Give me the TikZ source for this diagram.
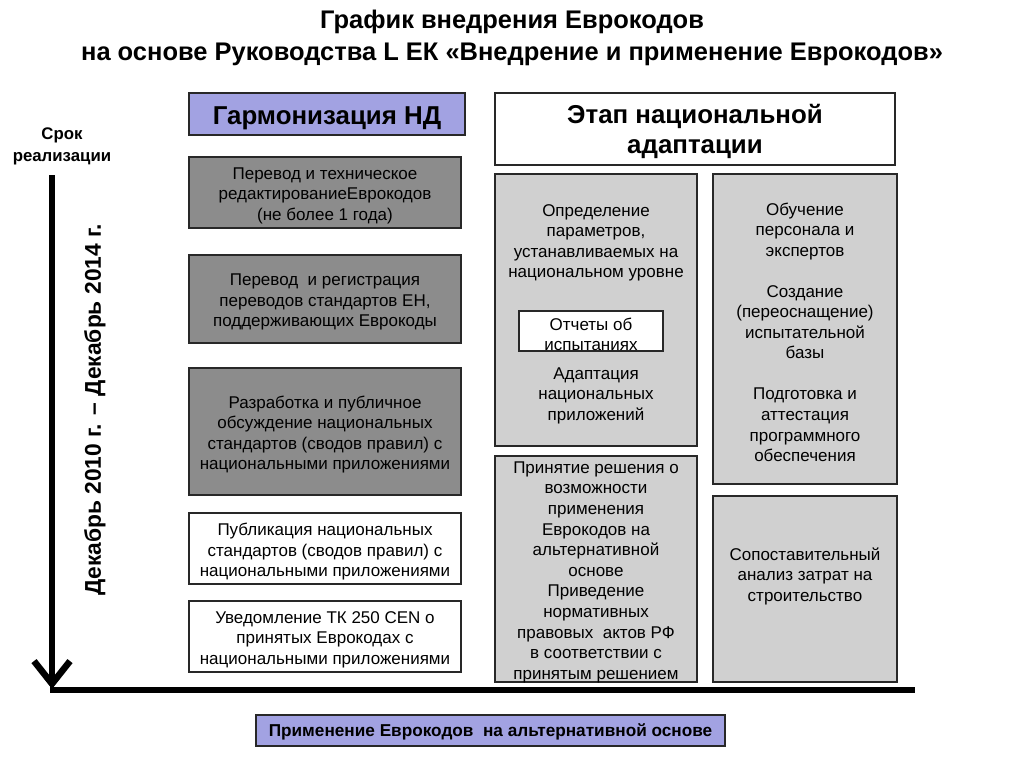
\documentclass[tikz,border=0pt]{standalone}
\usepackage{fontspec}
\setmainfont{Liberation Sans}
\usetikzlibrary{arrows.meta}
\definecolor{dgray}{RGB}{140,140,140}
\definecolor{lgray}{RGB}{208,208,208}
\definecolor{lav}{RGB}{162,162,226}
\definecolor{edge}{RGB}{40,40,40}
\begin{document}
\begin{tikzpicture}[x=0.75pt,y=-0.75pt,
  box/.style={draw=edge,line width=0.9pt,anchor=center,inner sep=0pt},
  body/.style={font=\fontsize{12.75}{15.4}\selectfont,align=center,inner sep=0pt,yshift=-2.4pt},
  darkbox/.style={box,fill=dgray},
  lightbox/.style={box,fill=lgray},
  whitebox/.style={box,fill=white},
  lavbox/.style={box,fill=lav},
  axis/.style={line width=4.9pt}]
\useasboundingbox (0,0) rectangle (1024,768);

% title
\node[align=center,font=\fontsize{19.1}{24}\selectfont\bfseries,yshift=-1.5pt] (title) at (512,36)
  {График внедрения Еврокодов\\на основе Руководства L ЕК «Внедрение и применение Еврокодов»};

% timeline label
\node[align=center,font=\fontsize{12.6}{16.5}\selectfont\bfseries,yshift=-1.5pt] (srok) at (62,144) {Срок\\реализации};
\node[rotate=90,font=\fontsize{17.1}{20}\selectfont\bfseries] (period) at (95,410)
  {Декабрь 2010 г. – Декабрь 2014 г.};

% header boxes
\node[lavbox,minimum width=207pt,minimum height=31.5pt] (harm) at (327,114) {};
\node[body,font=\fontsize{19.4}{22}\selectfont\bfseries,yshift=-0.6pt] (harmt) at (harm) {Гармонизация НД};
\node[whitebox,minimum width=300pt,minimum height=54pt] (etap) at (695,129) {};
\node[body,font=\fontsize{19.4}{22.5}\selectfont\bfseries,yshift=0.6pt] (etapt) at (etap) {Этап национальной\\адаптации};

% left column
\node[darkbox,minimum width=204pt,minimum height=53.25pt] (l1) at (325,192.5) {};
\node[body] (l1t) at (l1) {Перевод и техническое\\редактированиеЕврокодов\\(не более 1 года)};
\node[darkbox,minimum width=204pt,minimum height=66pt] (l2) at (325,299) {};
\node[body] (l2t) at (l2) {Перевод\ \ и регистрация\\переводов стандартов ЕН,\\поддерживающих Еврокоды};
\node[darkbox,minimum width=204pt,minimum height=95.25pt] (l3) at (325,431.5) {};
\node[body] (l3t) at (l3) {Разработка и публичное\\обсуждение национальных\\стандартов (сводов правил) с\\национальными приложениями};
\node[whitebox,minimum width=204pt,minimum height=53.25pt] (l4) at (325,548.5) {};
\node[body] (l4t) at (l4) {Публикация национальных\\стандартов (сводов правил) с\\национальными приложениями};
\node[whitebox,minimum width=204pt,minimum height=53.25pt] (l5) at (325,636.5) {};
\node[body] (l5t) at (l5) {Уведомление ТК 250 CEN о\\принятых Еврокодах с\\национальными приложениями};

% middle column
\node[lightbox,minimum width=151.5pt,minimum height=204pt] (ma) at (596,310) {};
\node[body] (matop) at (596,239.5) {Определение\\параметров,\\устанавливаемых на\\национальном уровне};
\node[whitebox,minimum width=108pt,minimum height=30pt] (reports) at (591,331) {};
\node[body] (reportst) at (reports) {Отчеты об\\испытаниях};
\node[body] (mabot) at (596,392.5) {Адаптация\\национальных\\приложений};

\node[lightbox,minimum width=151.5pt,minimum height=169.5pt] (mb) at (596,569) {};
\node[body,font=\fontsize{12.75}{15.45}\selectfont] (mbt) at (mb)
  {Принятие решения о\\возможности\\применения\\Еврокодов на\\альтернативной\\основе\\Приведение\\нормативных\\правовых\ \ актов РФ\\в соответствии с\\принятым решением};

% right column
\node[lightbox,minimum width=138pt,minimum height=232.5pt] (rc) at (805,329) {};
\node[body] (rct) at (rc)
  {Обучение\\персонала и\\экспертов\\[15.4pt]Создание\\(переоснащение)\\испытательной\\базы\\[15.4pt]Подготовка и\\аттестация\\программного\\обеспечения};
\node[lightbox,minimum width=138pt,minimum height=139.5pt] (rd) at (805,589) {};
\node[body] (rdtext) at (805,573) {Сопоставительный\\анализ затрат на\\строительство};

% bottom box
\node[lavbox,minimum width=351.75pt,minimum height=23.25pt] (alt) at (490.5,730.5) {};
\node[body,font=\fontsize{12.9}{15}\selectfont\bfseries,yshift=1pt] (altt) at (alt) {Применение Еврокодов\ \ на альтернативной основе};

% axes
\coordinate (axtop) at (52,175);
\coordinate (axtip) at (52,689);
\coordinate (axcorner) at (50,690);
\coordinate (axend) at (915,690);
\draw[axis,-{Straight Barb[length=17pt,width=27pt]}] (axtop) -- (axtip);
\draw[line width=5pt] (axcorner) -- (axend);
\end{tikzpicture}
\end{document}
